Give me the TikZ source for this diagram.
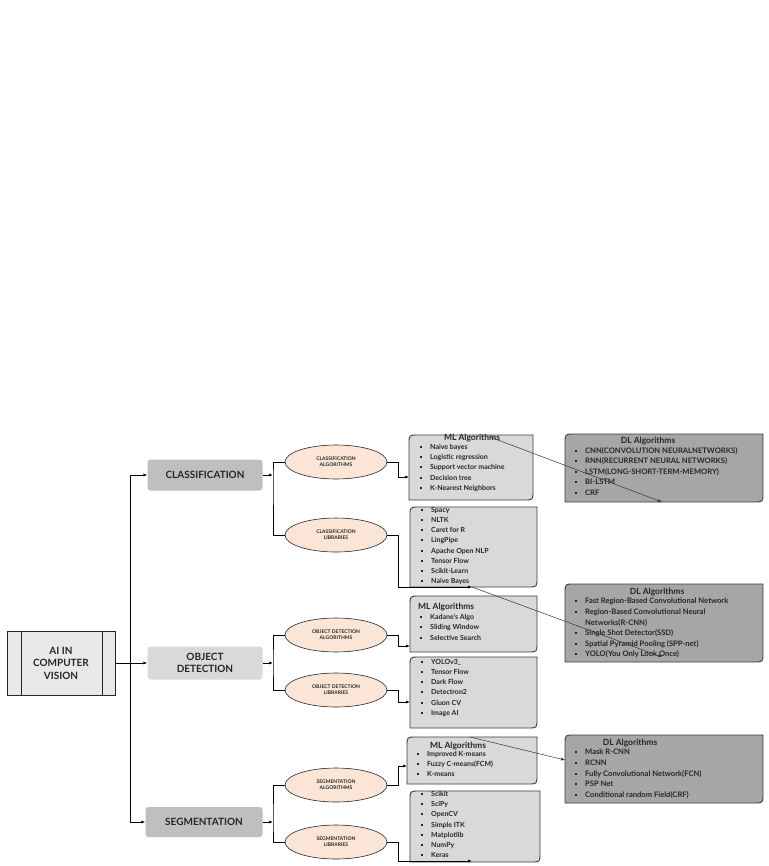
\documentclass[tikz,border=0pt]{standalone}
\usepackage{fontspec}
\setmainfont{Lato}
\usetikzlibrary{shapes.geometric,arrows.meta}
\definecolor{lg}{HTML}{D9D9D9}
\definecolor{mg}{HTML}{BFBFBF}
\definecolor{dg}{HTML}{A6A6A6}
\definecolor{peach}{HTML}{FBE5D6}
\definecolor{txt}{HTML}{262626}
\newcommand{\bl}{\makebox[10pt][l]{\rule[1.5pt]{2pt}{2pt}}}
\newcommand{\rbox}[5]{%
  \draw[line width=0.9pt,fill=#5,draw=txt!90] (#1,#4) -- (#1,#2+9) .. controls (#1,#2) .. (#1+9,#2) -- (#3,#2) -- (#3,#4-9) .. controls (#3,#4) .. (#3-9,#4) -- cycle;}
\tikzset{
  main/.style={fill=#1,rounded corners=3pt,minimum width=115pt,font=\fontsize{10}{12}\selectfont\bfseries,text=txt,align=center,inner sep=2pt},
  ell/.style={ellipse,draw=txt,fill=peach,line width=0.6pt,minimum width=102pt,minimum height=34pt,font=\fontsize{5}{6}\selectfont\bfseries,text=txt,align=center,inner sep=0pt},
  lst/.style={anchor=north west,align=left,inner sep=0pt,text=txt,font=\fontsize{7}{10.2}\selectfont\bfseries},
  dlst/.style={anchor=north west,align=left,inner sep=0pt,text=txt,font=\fontsize{7.6}{10.6}\selectfont\bfseries},
  hd/.style={inner sep=0pt,text=txt,font=\fontsize{8.5}{10}\selectfont\bfseries},
  con/.style={line width=0.7pt,draw=black,-{Latex[length=4pt,width=3pt]}},
  dia/.style={line width=0.5pt,draw=black!80,-{Latex[length=4pt,width=3pt]}},
}
\begin{document}
\begin{tikzpicture}[x=1pt,y=-1pt]
\useasboundingbox (0,0) rectangle (768,866);
% AI box
\node[draw=txt,fill=lg!60,line width=0.8pt,minimum width=108pt,minimum height=64pt,inner sep=0pt] (ai) at (61,663) {};
\draw[line width=0.8pt,draw=txt] (21,631) -- (21,695) (102,631) -- (102,695);
\node[font=\fontsize{10}{12.5}\selectfont\bfseries,text=txt,align=center] (ait) at (61,663) {AI IN\\COMPUTER\\VISION};
% main boxes
\node[main=mg,minimum height=31pt] (cls) at (205,475) {CLASSIFICATION};
\node[main=lg,minimum height=33pt] (od) at (205,663) {OBJECT\\DETECTION};
\node[main=mg,minimum height=30pt,minimum width=117pt] (seg) at (204,822) {SEGMENTATION};
\coordinate (t) at (130,663);
\draw[line width=0.7pt] (ai.east) -- (t);
\draw[con] (t) |- (cls.west);
\draw[con] (t) -- (od.west);
\draw[con] (t) |- (seg.west);
% ellipses
\node[ell] (ca) at (336,462) {CLASSIFICATION\\ALGORITHMS};
\node[ell] (cl) at (336,535) {CLASSIFICATION\\LIBRARIES};
\node[ell] (oa) at (336,635) {OBJECT DETECTION\\ALGORITHMS};
\node[ell] (ol) at (336,690) {OBJECT DETECTION\\LIBRARIES};
\node[ell] (sa) at (336,785) {SEGMENTATION\\ALGORITHMS};
\node[ell] (sl) at (336,842) {SEGMENTATION\\LIBRARIES};
\foreach \m/\a/\b in {cls/ca/cl,od/oa/ol,seg/sa/sl}{
  \coordinate (j\m) at (273,0 |- \m.east);
  \draw[con] (\m.east) -- (j\m);
  \draw[line width=0.7pt] (\a.west) -| (273,0 |- \m.east) |- (\b.west);
}
% boxes
\rbox{409}{435}{533}{500}{lg}
\rbox{410}{507}{537}{587}{lg}
\rbox{565}{434}{763}{502}{dg}
\rbox{410}{596}{537}{652}{lg}
\rbox{565}{584}{763}{662}{dg}
\rbox{410}{657}{537}{728}{lg}
\rbox{407}{737}{537}{784}{lg}
\rbox{565}{735}{763}{803}{dg}
\rbox{410}{791}{540}{862}{lg}
\coordinate (ml1) at (409,477);
\coordinate (lb1) at (472,587);
\coordinate (ml2) at (410,646);
\coordinate (lb2) at (410,702);
\coordinate (ml3) at (407,766);
\coordinate (lb3) at (472,861);
\coordinate (dl1a) at (490,437); \coordinate (dl1) at (662,502);
\coordinate (dl2) at (662,657);
\coordinate (dl3a) at (470,737); \coordinate (dl3) at (565,760);
\draw[con] (ca.east) -- (398,462) |- (ml1);
\draw[con] (cl.east) -- (398,535) |- (lb1);
\draw[con] (oa.east) -- (398,635) |- (ml2);
\draw[con] (ol.east) -- (398,690) |- (lb2);
\draw[con] (sa.east) -- (398,785) |- (ml3);
\draw[con] (sl.east) -- (398,842) |- (lb3);
% texts
\node[hd] (h1) at (472,438) {ML Algorithms};
\node[lst] (t1) at (420,444) {\bl Naive bayes\\\bl Logistic regression\\\bl Support vector machine\\\bl Decision tree\\\bl K-Nearest Neighbors};
\node[hd] (h2) at (648,441) {DL Algorithms};
\node[dlst] (t2) at (575,447) {\bl CNN(CONVOLUTION NEURALNETWORKS)\\\bl RNN(RECURRENT NEURAL NETWORKS)\\\bl LSTM(LONG-SHORT-TERM-MEMORY)\\\bl BI-LSTM\\\bl CRF};
\node[lst] (t3) at (421,507) {\bl Spacy\\\bl NLTK\\\bl Caret for R\\\bl LingPipe\\\bl Apache Open NLP\\\bl Tensor Flow\\\bl Scikit-Learn\\\bl Naive Bayes};
\node[hd,anchor=west] (h4) at (418,607) {ML Algorithms};
\node[lst] (t4) at (420,614) {\bl Kadane's Algo\\\bl Sliding Window\\\bl Selective Search};
\node[hd] (h5) at (657,592) {DL Algorithms};
\node[dlst] (t5) at (575,598) {\bl Fast Region-Based Convolutional Network\\\bl Region-Based Convolutional Neural\\\hspace*{10pt}Networks(R-CNN)\\\bl Single Shot Detector(SSD)\\\bl Spatial Pyramid Pooling (SPP-net)\\\bl YOLO(You Only Look Once)};
\node[lst] (t6) at (421,659) {\bl YOLOv3\_\\\bl Tensor Flow\\\bl Dark Flow\\\bl Detectron2\\\bl Gluon CV\\\bl Image AI};
\node[hd] (h7) at (458,746) {ML Algorithms};
\node[lst] (t7) at (417,751) {\bl Improved K-means\\\bl Fuzzy C-means(FCM)\\\bl K-means};
\node[hd] (h8) at (630,743) {DL Algorithms};
\node[dlst] (t8) at (575,749) {\bl Mask R-CNN\\\bl RCNN\\\bl Fully Convolutional Network(FCN)\\\bl PSP Net\\\bl Conditional random Field(CRF)};
\node[lst] (t9) at (421,791) {\bl Scikit\\\bl SciPy\\\bl OpenCV\\\bl Simple ITK\\\bl Matplotlib\\\bl NumPy\\\bl Keras};
% diagonal arrows
\draw[dia] (dl1a) -- (dl1);
\draw[dia] (lb1) -- (dl2);
\draw[dia] (dl3a) -- (dl3);
\end{tikzpicture}
\end{document}
